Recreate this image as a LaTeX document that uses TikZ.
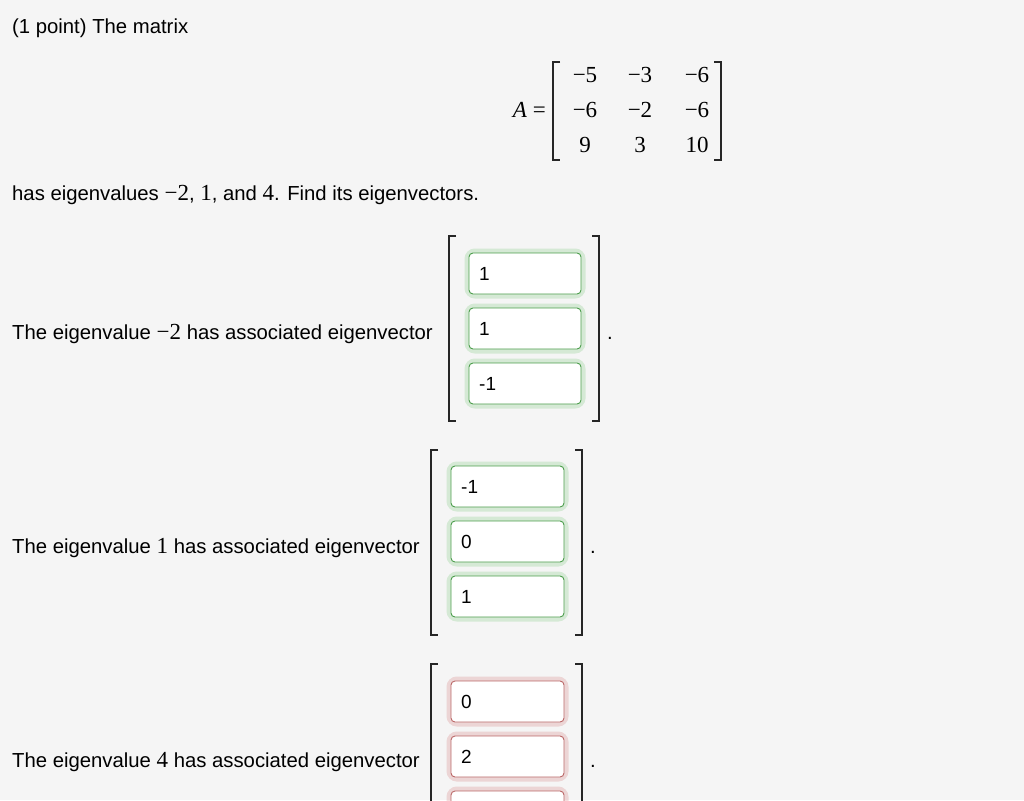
\documentclass[tikz,border=0pt]{standalone}
\usepackage{fontspec}
\setmainfont{Liberation Sans}
\newfontfamily\mathser{Liberation Serif}
\newcommand\mnum[1]{{\mathser\fontsize{23}{26}\selectfont #1}}
\begin{document}
\begin{tikzpicture}[x=1pt,y=-1pt,
  txt/.style={anchor=base west,inner sep=0pt,font=\fontsize{20.3}{24}\selectfont},
  ent/.style={anchor=base,inner sep=0pt,font=\mathser\fontsize{23}{26}\selectfont},
  brk/.style={line width=1.6pt,draw=black!85},
  okbox/.style={draw=green!45!black!70,line width=0.9pt,rounded corners=4pt,fill=white},
  badbox/.style={draw=red!55!black!60,line width=0.9pt,rounded corners=4pt,fill=white},
  glowg/.style={draw=green!60!black,line width=9pt,opacity=0.13,rounded corners=6pt},
  glowr/.style={draw=red!70!black,line width=9pt,opacity=0.13,rounded corners=6pt},
  val/.style={anchor=base west,inner sep=0pt,font=\fontsize{19}{22}\selectfont}]
\useasboundingbox (0,0) rectangle (1024,800);
\fill[black!4] (0,0) rectangle (1024,800);
\node[txt] (t1) at (12,34) {(1 point) The matrix};
% matrix
\node[anchor=base east,inner sep=0pt,font=\mathser\fontsize{23}{26}\selectfont] (aeq) at (546,117) {\textit{A} =};
\draw[brk] (560,62) -- (553,62) -- (553,160) -- (560,160);
\draw[brk] (714,62) -- (721,62) -- (721,160) -- (714,160);
\node[ent] (m11) at (585,82) {−5};\node[ent] (m12) at (640,82) {−3};\node[ent] (m13) at (697,82) {−6};
\node[ent] (m21) at (585,117) {−6};\node[ent] (m22) at (640,117) {−2};\node[ent] (m23) at (697,117) {−6};
\node[ent] (m31) at (585,152) {9};\node[ent] (m32) at (640,152) {3};\node[ent] (m33) at (697,152) {10};
\node[txt] (t2) at (12,200) {has eigenvalues \mnum{−2}, \mnum{1}, and \mnum{4}. Find its eigenvectors.};
% eigenvector 1
\node[txt] (l1) at (12,339) {The eigenvalue \mnum{−2} has associated eigenvector};
\draw[brk] (456,236) -- (449,236) -- (449,421) -- (456,421);
\draw[brk] (592,236) -- (599,236) -- (599,421) -- (592,421);
\foreach \y/\v/\n in {253/1/a,308/1/b,363/-1/c}{
  \draw[glowg] (469,\y) rectangle (581,\y+41);
  \draw[okbox] (469,\y) rectangle (581,\y+41);
  \node[val] (v1\n) at (479,\y+27) {\v};}
\node[txt] (d1) at (607,339) {.};
% eigenvector 2
\node[txt] (l2) at (12,553) {The eigenvalue \mnum{1} has associated eigenvector};
\draw[brk] (438,450) -- (431,450) -- (431,635) -- (438,635);
\draw[brk] (575,450) -- (582,450) -- (582,635) -- (575,635);
\foreach \y/\v/\n in {466/-1/a,521/0/b,576/1/c}{
  \draw[glowg] (451,\y) rectangle (564,\y+41);
  \draw[okbox] (451,\y) rectangle (564,\y+41);
  \node[val] (v2\n) at (461,\y+27) {\v};}
\node[txt] (d2) at (590,553) {.};
% eigenvector 3
\node[txt] (l3) at (12,767) {The eigenvalue \mnum{4} has associated eigenvector};
\draw[brk] (438,664) -- (431,664) -- (431,810);
\draw[brk] (575,664) -- (582,664) -- (582,810);
\foreach \y/\v/\n in {681/0/a,736/2/b,791/{}/c}{
  \draw[glowr] (451,\y) rectangle (564,\y+41);
  \draw[badbox] (451,\y) rectangle (564,\y+41);
  \node[val] (v3\n) at (461,\y+27) {\v};}
\node[txt] (d3) at (590,767) {.};
\end{tikzpicture}
\end{document}
